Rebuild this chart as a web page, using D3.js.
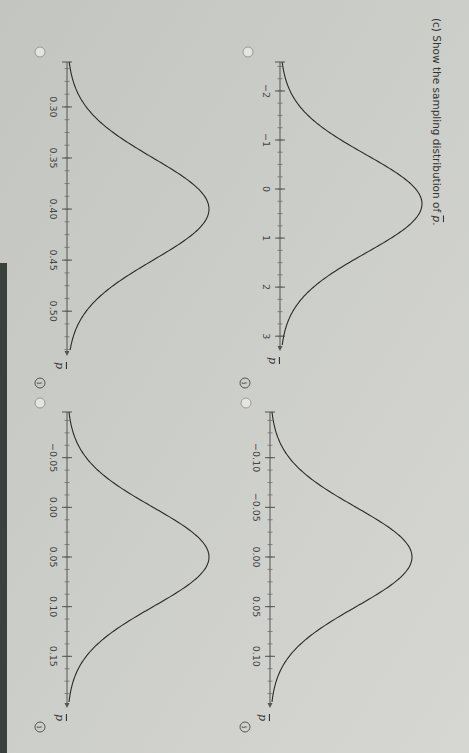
<!DOCTYPE html>
<html><head><meta charset="utf-8">
<script src="https://cdn.jsdelivr.net/npm/d3@7"></script>
<style>body{margin:0;background:#c9cbc6}svg{display:block}</style>
</head><body>
<script>
const W=469,H=753;
// data
const titleText="Show the sampling distribution of ";
const means=[0.3,0.40,0.0,0.05];
const sds=[1.0,0.05,0.05,0.05];
const domains=[[-2.59,3.18],[0.256,0.538],[-0.146,0.146],[-0.096,0.196]];
const majorTicks=[[-2,-1,0,1,2,3],[0.30,0.35,0.40,0.45,0.50],[-0.10,-0.05,0.00,0.05,0.10],[-0.05,0.00,0.05,0.10,0.15]];
const tickLabels=[["−2","−1","0","1","2","3"],["0.30","0.35","0.40","0.45","0.50"],["−0.10","−0.05","0.00","0.05","0.10"],["−0.05","0.00","0.05","0.10","0.15"]];
const minorStep=[0.25,0.0125,0.0125,0.0125];
// layout (local rotated coords: u = screen y, v = 469 - screen x)
const panels=[{u0:62,u1:345,base:189},{u0:62,u1:350,base:402},{u0:412,u1:702,base:199},{u0:412,u1:702,base:402}];

const svg=d3.select("body").append("svg").attr("width",W).attr("height",H);
const defs=svg.append("defs");
const g1=defs.append("linearGradient").attr("id","bg").attr("x1",0).attr("y1",0).attr("x2",1).attr("y2",1);
g1.append("stop").attr("offset",0).attr("stop-color","#c3c5c0");
g1.append("stop").attr("offset",1).attr("stop-color","#d6d7d2");
svg.append("rect").attr("width",W).attr("height",H).attr("fill","url(#bg)");
svg.append("rect").attr("x",0).attr("y",263).attr("width",7).attr("height",490).attr("fill","#3a403c");

const root=svg.append("g").attr("transform",`translate(${W},0) rotate(90)`);
root.append("text").attr("x",18).attr("y",469-437+4).attr("font-family","DejaVu Sans").attr("font-size",10.5).attr("fill","#333")
 .text("(c)  "+titleText).append("tspan").attr("font-style","italic").attr("text-decoration","overline").text("p");
root.select("text").append("tspan").text(".");

const pdf=(x,m,s)=>Math.exp(-0.5*((x-m)/s)**2)/(s*Math.sqrt(2*Math.PI));
panels.forEach((p,i)=>{
  const g=root.append("g");
  const x=d3.scaleLinear().domain(domains[i]).range([p.u0,p.u1]);
  const peak=pdf(means[i],means[i],sds[i]);
  const y=d3.scaleLinear().domain([0,peak]).range([p.base,p.base-142]);
  // axis line
  g.append("line").attr("x1",p.u0).attr("x2",p.u1+4).attr("y1",p.base).attr("y2",p.base).attr("stroke","#555").attr("stroke-width",1);
  g.append("path").attr("d",`M${p.u1+6},${p.base} l-5,-2.5 v5 z`).attr("fill","#555");
  g.append("line").attr("x1",p.u0).attr("x2",p.u0).attr("y1",p.base-5).attr("y2",p.base+5).attr("stroke","#555");
  const minor=d3.range(Math.ceil(domains[i][0]/minorStep[i]),Math.floor(domains[i][1]/minorStep[i])+1).map(k=>k*minorStep[i]);
  g.selectAll(".mn").data(minor).join("line").attr("x1",d=>x(d)).attr("x2",d=>x(d)).attr("y1",p.base-2.5).attr("y2",p.base+2.5).attr("stroke","#666").attr("stroke-width",0.7);
  g.selectAll(".mj").data(majorTicks[i]).join("line").attr("x1",d=>x(d)).attr("x2",d=>x(d)).attr("y1",p.base-5).attr("y2",p.base+5).attr("stroke","#555");
  g.selectAll(".lb").data(majorTicks[i]).join("text").attr("x",d=>x(d)).attr("y",p.base+17).attr("text-anchor","middle")
    .attr("font-family","DejaVu Sans").attr("font-size",9.5).attr("fill","#444").text((d,j)=>tickLabels[i][j]);
  g.append("text").attr("x",p.u1+12).attr("y",p.base+11).attr("font-family","DejaVu Serif").attr("font-style","italic").attr("font-size",11).attr("fill","#333")
   .attr("text-decoration","overline").text("p");
  const xs=d3.range(0,201).map(k=>domains[i][0]+(domains[i][1]-domains[i][0])*k/200);
  g.append("path").datum(xs).attr("fill","none").attr("stroke","#2a2a2a").attr("stroke-width",1.1)
   .attr("d",d3.line().x(d=>x(d)).y(d=>y(pdf(d,means[i],sds[i]))).curve(d3.curveBasis));
});
// radio buttons and info icons (screen coords -> local)
const radios=[[248,52],[40,52],[246,403],[40,403]];
radios.forEach(([sx,sy])=>root.append("circle").attr("cx",sy).attr("cy",W-sx).attr("r",5).attr("fill","#e4e5e1").attr("stroke","#999"));
const infos=[[245,383],[40,383],[245,727],[40,727]];
infos.forEach(([sx,sy])=>{root.append("circle").attr("cx",sy).attr("cy",W-sx).attr("r",5).attr("fill","none").attr("stroke","#555");
 root.append("text").attr("x",sy).attr("y",W-sx+3).attr("text-anchor","middle").attr("font-family","DejaVu Serif").attr("font-size",8).attr("fill","#444").text("i");});
</script>
</body></html>
